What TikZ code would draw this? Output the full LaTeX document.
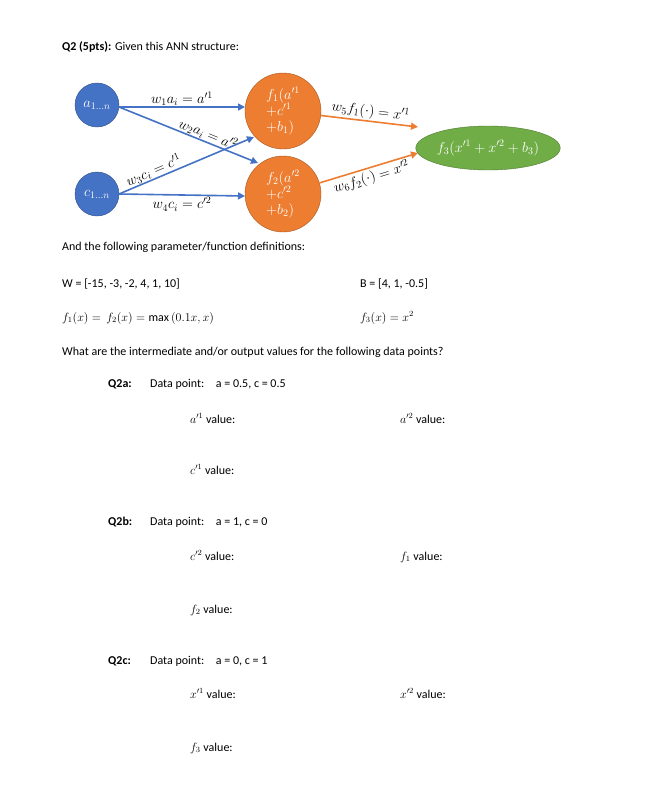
\documentclass[tikz,border=0pt]{standalone}
\usepackage{fontspec}
\setmainfont{Carlito}
\usetikzlibrary{arrows.meta,shapes.geometric}
\definecolor{nblue}{HTML}{4472C4}
\definecolor{norange}{HTML}{ED7D31}
\definecolor{ngreen}{HTML}{70AD47}
\begin{document}
\begin{tikzpicture}[x=1pt,y=-1pt,
  txt/.style={anchor=base west,inner sep=0pt,font=\fontsize{12}{14}\selectfont},
  inp/.style={circle,fill=nblue,draw=nblue!70!black,minimum size=44pt,inner sep=0pt,text=white,font=\fontsize{14}{16}\selectfont},
  hid/.style={circle,fill=norange,draw=norange!70!black,minimum size=76pt,inner sep=0pt,text=white,align=left,font=\fontsize{14}{16}\selectfont},
  outn/.style={ellipse,fill=ngreen,draw=ngreen!70!black,minimum width=132pt,minimum height=44pt,inner sep=0pt,text=white,font=\fontsize{14}{16}\selectfont},
  barrow/.style={-{Triangle[length=7pt,width=7pt]},line width=1.6pt,nblue},
  oarrow/.style={-{Triangle[length=7pt,width=7pt]},line width=1.6pt,norange},
  lab/.style={font=\fontsize{14}{16}\selectfont,inner sep=0.5pt,text=black}]
\useasboundingbox (0,0) rectangle (661,803);
\node[txt] (t0) at (62,50) {\textbf{Q2 (5pts):} Given this ANN structure:};
\node[inp] (a) at (97,105) {$a_{1\ldots n}$};
\node[inp] (c) at (97,194) {$c_{1\ldots n}$};
\node[hid] (f1) at (283,111) {$f_1(a'^1$\\$+c'^1$\\$+b_1)$};
\node[hid] (f2) at (283,194) {$f_2(a'^2$\\$+c'^2$\\$+b_2)$};
\node[outn] (f3) at (488,148) {$f_3(x'^1+x'^2+b_3)$};
\coordinate (e1) at (245,107);
\coordinate (e2) at (258,163);
\coordinate (e3) at (254,137);
\coordinate (e4) at (245,196);
\coordinate (s1) at (119,107);
\coordinate (s2) at (119,194);
\coordinate (o1) at (418,127);
\coordinate (o2) at (418,153);
\draw[barrow] (s1) -- (e1) node[lab,midway,above] {$w_1a_i=a'^1$};
\draw[barrow] (s1) -- (e2) node[lab,pos=0.62,above,sloped] {$w_2a_i=a'^2$};
\draw[barrow] (s2) -- (e3) node[lab,pos=0.28,above,sloped] {$w_3c_i=c'^1$};
\draw[barrow] (s2) -- (e4) node[lab,midway,below=1pt] {$w_4c_i=c'^2$};
\draw[oarrow] (f1) -- (o1) node[lab,midway,above=1pt,sloped] {$w_5f_1(\cdot)=x'^1$};
\draw[oarrow] (f2) -- (o2) node[lab,midway,below=1pt,sloped] {$w_6f_2(\cdot)=x'^2$};
\node[txt] (t1) at (62,250) {And the following parameter/function definitions:};
\node[txt] (t2) at (62,287) {W = [-15, -3, -2, 4, 1, 10]};
\node[txt] (t3) at (360,287) {B = [4, 1, -0.5]};
\node[txt] (t4) at (62,321) {$f_1(x)=\,f_2(x)=\max\,(0.1x,x)$};
\node[txt] (t5) at (360,321) {$f_3(x)=x^2$};
\node[txt] (t6) at (62,355) {What are the intermediate and/or output values for the following data points?};
\node[txt] (q1) at (108,387) {\textbf{Q2a:}};
\node[txt] (q1b) at (150,387) {Data point:\hspace{8pt} a = 0.5, c = 0.5};
\node[txt] (v1) at (190,423) {$a'^1$ value:};
\node[txt] (v2) at (400,423) {$a'^2$ value:};
\node[txt] (v3) at (190,474) {$c'^1$ value:};
\node[txt] (q2) at (108,525) {\textbf{Q2b:}};
\node[txt] (q2b) at (150,525) {Data point:\hspace{8pt} a = 1, c = 0};
\node[txt] (v4) at (190,560) {$c'^2$ value:};
\node[txt] (v5) at (400,560) {$f_1$ value:};
\node[txt] (v6) at (190,613) {$f_2$ value:};
\node[txt] (q3) at (108,664) {\textbf{Q2c:}};
\node[txt] (q3b) at (150,664) {Data point:\hspace{8pt} a = 0, c = 1};
\node[txt] (v7) at (190,698) {$x'^1$ value:};
\node[txt] (v8) at (400,698) {$x'^2$ value:};
\node[txt] (v9) at (190,751) {$f_3$ value:};
\end{tikzpicture}
\end{document}
